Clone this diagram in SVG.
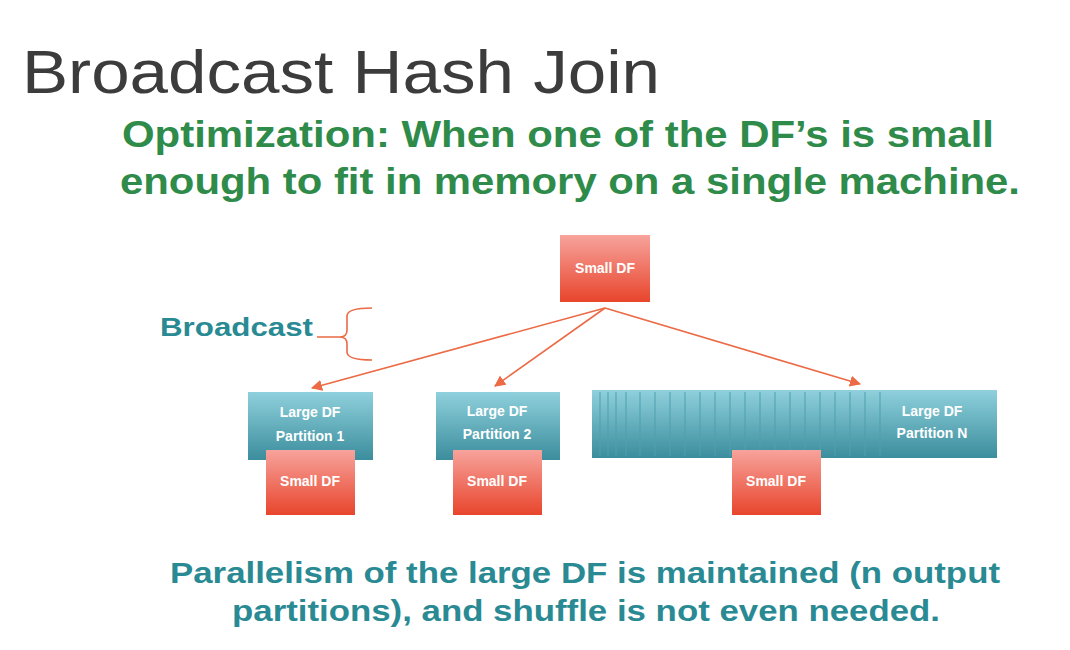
<svg xmlns="http://www.w3.org/2000/svg" width="1070" height="650" viewBox="0 0 1070 650">
<defs>
<linearGradient id="red" x1="0" y1="0" x2="0" y2="1"><stop offset="0" stop-color="#f7a39c"/><stop offset="1" stop-color="#e8452c"/></linearGradient>
<linearGradient id="teal" x1="0" y1="0" x2="0" y2="1"><stop offset="0" stop-color="#8fd0dc"/><stop offset="1" stop-color="#3b8d9d"/></linearGradient>
<marker id="ah" viewBox="0 0 10 10" refX="9" refY="5" markerWidth="7" markerHeight="7" orient="auto"><path d="M0,0 L10,5 L0,10 z" fill="#ec6a45"/></marker>
</defs>
<style>
.s{fill:url(#red)}
.l{fill:url(#teal)}
.bt{font-family:"Liberation Sans",Arial,sans-serif;font-size:14px;font-weight:bold;fill:#fff;text-anchor:middle}
.g{font-family:"Liberation Sans",Arial,sans-serif;font-weight:bold;font-size:36px;fill:#2e8b4a}
.t{font-family:"Liberation Sans",Arial,sans-serif;font-weight:bold;fill:#2a8a94}
.c{stroke:#ec6a45;stroke-width:1.6;fill:none}
</style>
<rect width="1070" height="650" fill="#fff"/>
<text x="22" y="93" font-family="Liberation Sans,Arial,sans-serif" font-size="62" fill="#3c3c3c" textLength="638" lengthAdjust="spacingAndGlyphs">Broadcast Hash Join</text>
<text class="g" x="122" y="147" textLength="872" lengthAdjust="spacingAndGlyphs">Optimization: When one of the DF’s is small</text>
<text class="g" x="120" y="194" textLength="900" lengthAdjust="spacingAndGlyphs">enough to fit in memory on a single machine.</text>
<text class="t" x="160" y="336" font-size="25" textLength="153" lengthAdjust="spacingAndGlyphs">Broadcast</text>
<g id="connectors">
<path class="c" d="M317,337 L340,337 Q347,337 347,330 L347,316 Q347,308 372,308 M340,337 Q347,337 347,344 L347,352 Q347,360 372,360"/>
<line class="c" x1="605" y1="308" x2="312" y2="388" marker-end="url(#ah)"/>
<line class="c" x1="605" y1="308" x2="495" y2="386" marker-end="url(#ah)"/>
<line class="c" x1="605" y1="308" x2="860" y2="384" marker-end="url(#ah)"/>
</g>
<g id="small-top"><rect class="s" x="560" y="235" width="90" height="67"/><text class="bt" x="605" y="273">Small DF</text></g>
<g id="large1"><rect class="l" x="248" y="392" width="125" height="68"/><text class="bt" x="310" y="417">Large DF</text><text class="bt" x="310" y="441">Partition 1</text></g>
<g id="large2"><rect class="l" x="436" y="392" width="124" height="68"/><text class="bt" x="497" y="416">Large DF</text><text class="bt" x="497" y="439">Partition 2</text></g>
<g id="largeN"><rect class="l" x="592" y="390" width="405" height="68"/>
<g stroke="#4f9fae" stroke-width="1">
<path d="M600,392V456M608,392V456M616,392V456M626,392V456M640,392V456M655,392V456M670,392V456M685,392V456M700,392V456M715,392V456M730,392V456M745,392V456M760,392V456M775,392V456M790,392V456M805,392V456M820,392V456M835,392V456M850,392V456M865,392V456M880,392V456"/>
</g>
<text class="bt" x="932" y="416">Large DF</text><text class="bt" x="932" y="438">Partition N</text></g>
<g id="small1"><rect class="s" x="266" y="450" width="89" height="65"/><text class="bt" x="310" y="486">Small DF</text></g>
<g id="small2"><rect class="s" x="453" y="450" width="89" height="65"/><text class="bt" x="497" y="486">Small DF</text></g>
<g id="smallN"><rect class="s" x="732" y="450" width="89" height="65"/><text class="bt" x="776" y="486">Small DF</text></g>
<text class="t" x="170" y="583" font-size="30" textLength="830" lengthAdjust="spacingAndGlyphs">Parallelism of the large DF is maintained (n output</text>
<text class="t" x="232" y="621" font-size="30" textLength="708" lengthAdjust="spacingAndGlyphs">partitions), and shuffle is not even needed.</text>
</svg>
